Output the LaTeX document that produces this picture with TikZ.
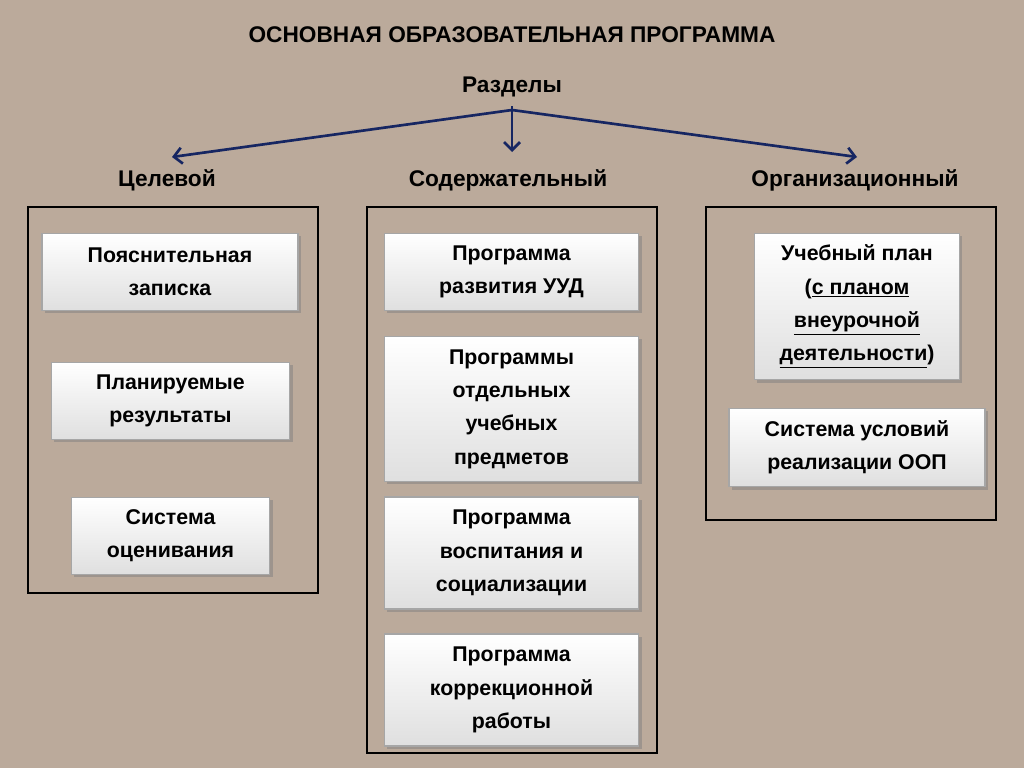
\documentclass[tikz,border=0pt]{standalone}
\usepackage{fontspec}
\setmainfont{Liberation Sans}
\usetikzlibrary{shadows,arrows.meta}
\definecolor{bgcol}{RGB}{187,170,155}
\definecolor{arrowcol}{RGB}{22,38,98}
\tikzset{itembox/.style = {draw = gray!70, thick, top color = white, bottom color = gray!25,
  drop shadow = {opacity = 0.5, shadow xshift = 2pt, shadow yshift = -2pt},
  align = center, font = \bfseries\fontsize{16}{25}\selectfont, inner sep = 2pt},
  frame/.style = {draw, thick},
  head/.style = {font = \bfseries\fontsize{17}{20}\selectfont}}
\begin{document}
\begin{tikzpicture}[x = 0.75pt, y = -0.75pt]
\fill[bgcol] (0,0) rectangle (1024,768);
\useasboundingbox (0,0) rectangle (1024,768);
\node[head] (title) at (512,35) {ОСНОВНАЯ ОБРАЗОВАТЕЛЬНАЯ ПРОГРАММА};
\node[head] (razd) at (512,87) {Разделы};
\node[head] (cel) at (167,180) {Целевой};
\node[head] (sod) at (508,180) {Содержательный};
\node[head] (org) at (855,180) {Организационный};
\coordinate (hub) at (512,110);
\coordinate (hubtop) at (512,106);
\coordinate (tl) at (172,157);
\coordinate (tm) at (512,152);
\coordinate (tr) at (857,157);
\draw[arrowcol, line width = 2pt, -{Straight Barb[length=6pt,width=12pt]}] (hub) -- (tl);
\draw[arrowcol, line width = 2pt, -{Straight Barb[length=6pt,width=12pt]}] (hubtop) -- (tm);
\draw[arrowcol, line width = 2pt, -{Straight Barb[length=6pt,width=12pt]}] (hub) -- (tr);
% frames
\draw[frame] (28,207) rectangle (318,593);
\draw[frame] (367,207) rectangle (657,753);
\draw[frame] (706,207) rectangle (996,520);
% left column
\node[itembox, minimum width = 192pt, minimum height = 58pt] (l1) at (170,272) {Пояснительная\\записка};
\node[itembox, minimum width = 179pt, minimum height = 58pt] (l2) at (170.5,401) {Планируемые\\результаты};
\node[itembox, minimum width = 149pt, minimum height = 58pt] (l3) at (170.5,536) {Система\\оценивания};
% middle column
\node[itembox, minimum width = 191pt, minimum height = 58pt] (m1) at (511.5,272) {Программа\\развития УУД};
\node[itembox, minimum width = 191pt, minimum height = 109pt] (m2) at (511.5,409) {Программы\\отдельных\\учебных\\предметов};
\node[itembox, minimum width = 191pt, minimum height = 84pt] (m3) at (511.5,553) {Программа\\воспитания и\\социализации};
\node[itembox, minimum width = 191pt, minimum height = 84pt] (m4) at (511.5,690) {Программа\\коррекционной\\работы};
% right column
\node[itembox, minimum width = 154pt, minimum height = 110pt] (r1) at (857,306.5) {Учебный план\\(\underline{с планом}\\\underline{внеурочной}\\\underline{деятельности})};
\node[itembox, minimum width = 192pt, minimum height = 59pt] (r2) at (857,447.5) {Система условий\\реализации ООП};
%
\end{tikzpicture}
\end{document}
